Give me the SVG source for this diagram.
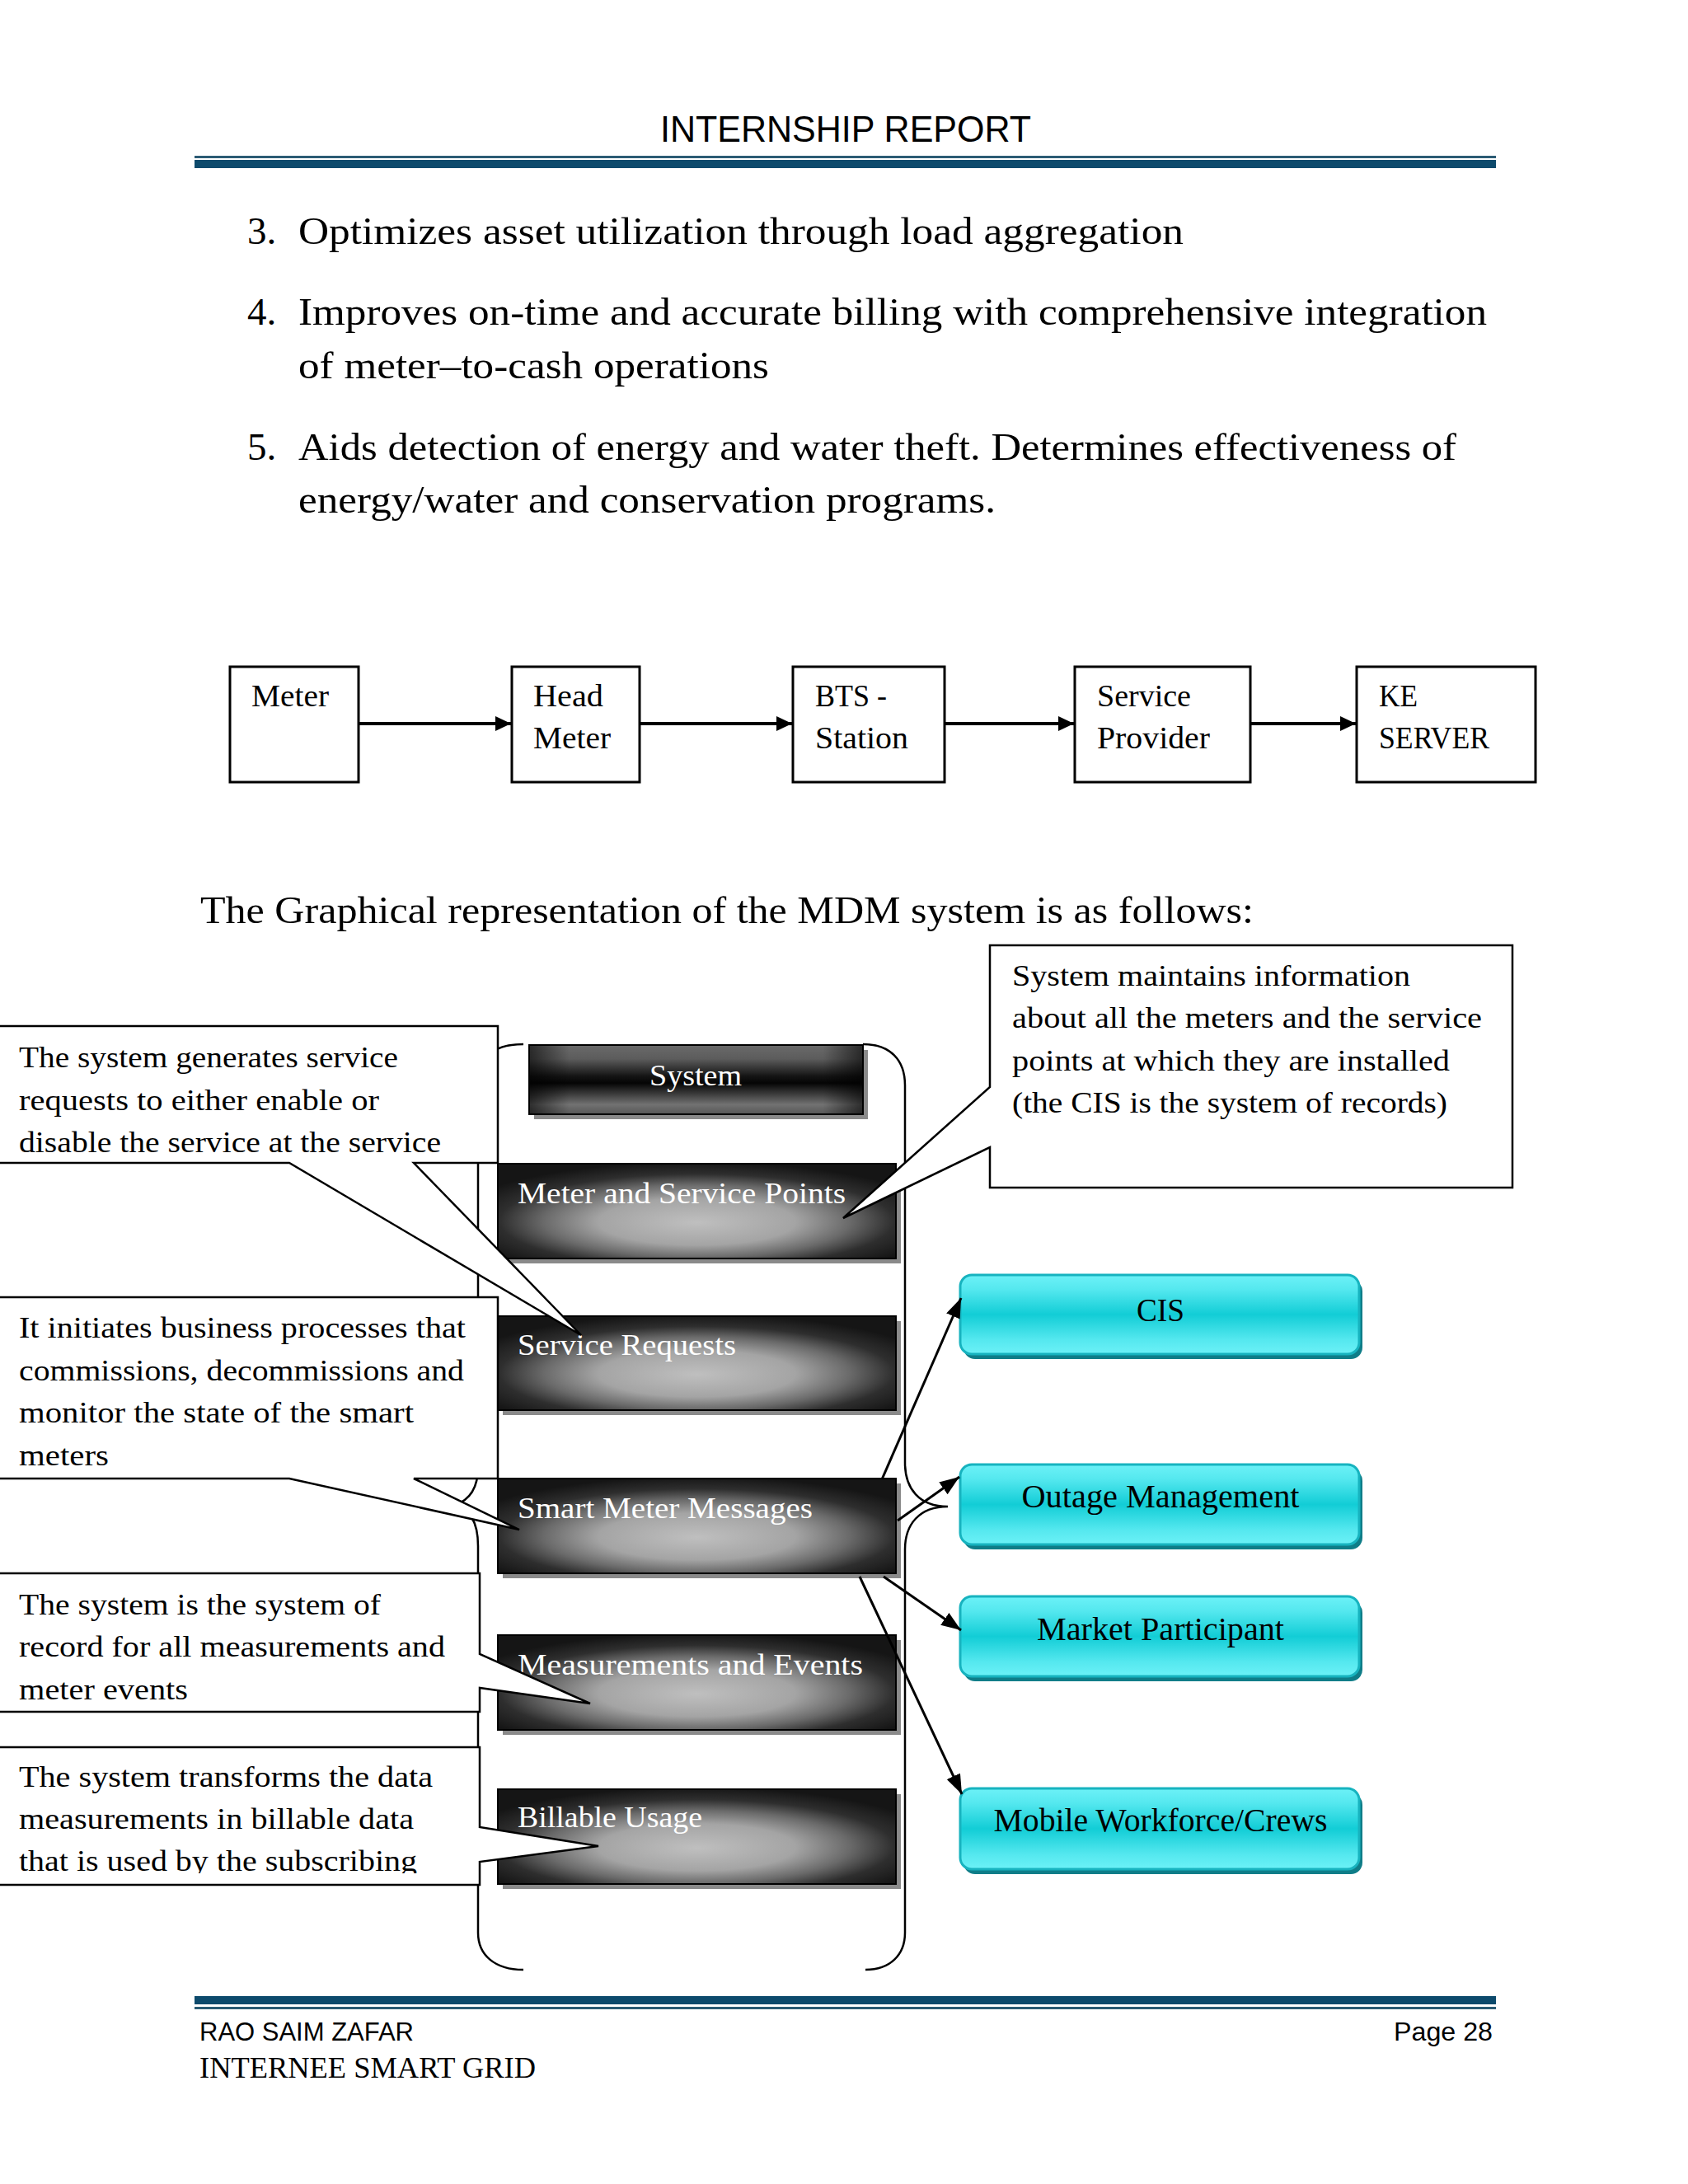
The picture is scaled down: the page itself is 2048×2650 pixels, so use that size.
<svg xmlns="http://www.w3.org/2000/svg" width="2048" height="2650" viewBox="0 0 2048 2650">
<style>
.sans{font-family:"Liberation Sans","Open Sans",sans-serif;fill:#000}
.ser{font-family:"Liberation Serif","DejaVu Serif",serif;fill:#000}
.body{font-size:47px}
.flow{font-size:38px}
.call{font-size:36px}
.dk{font-size:36px;fill:#fff}
.cy{font-size:40px}
.fbox{fill:#fff;stroke:#000;stroke-width:3}
.callout{fill:#fff;stroke:#000;stroke-width:2.5;stroke-linejoin:miter}
.brace{fill:none;stroke:#000;stroke-width:2.5}
.shadow{fill:#8a8a8a}
.dbox{stroke:#000;stroke-width:2}
.cshadow{fill:#0f7d88}
.cbox{fill:url(#gCyan);stroke:#17b3bf;stroke-width:3}
.conn{stroke:#000;stroke-width:3;fill:none}
.flowc{stroke:#000;stroke-width:4;fill:none}
.bar{fill:#0d4a6c}
.thin{fill:#2b5b74}
</style>
<defs>
<linearGradient id="gSys" x1="0" y1="0" x2="0" y2="1">
<stop offset="0" stop-color="#6a6a6a"/>
<stop offset="0.2" stop-color="#5c5c5c"/>
<stop offset="0.45" stop-color="#141414"/>
<stop offset="0.55" stop-color="#050505"/>
<stop offset="0.72" stop-color="#404040"/>
<stop offset="0.86" stop-color="#727272"/>
<stop offset="1" stop-color="#565656"/>
</linearGradient>
<linearGradient id="gEdge" x1="0" y1="0" x2="1" y2="0">
<stop offset="0" stop-color="#000" stop-opacity="0.6"/>
<stop offset="0.12" stop-color="#000" stop-opacity="0"/>
<stop offset="0.88" stop-color="#000" stop-opacity="0"/>
<stop offset="1" stop-color="#000" stop-opacity="0.6"/>
</linearGradient>
<radialGradient id="gDark" cx="0.5" cy="0.6" r="0.62" fx="0.5" fy="0.62">
<stop offset="0" stop-color="#bfbfbf"/>
<stop offset="0.4" stop-color="#a4a4a4"/>
<stop offset="0.62" stop-color="#6a6a6a"/>
<stop offset="0.8" stop-color="#2e2e2e"/>
<stop offset="1" stop-color="#151515"/>
</radialGradient>
<linearGradient id="gCyan" x1="0" y1="0" x2="0" y2="1">
<stop offset="0" stop-color="#6cf1f7"/>
<stop offset="0.18" stop-color="#55e8ef"/>
<stop offset="0.5" stop-color="#12cdd6"/>
<stop offset="0.82" stop-color="#55e8ef"/>
<stop offset="1" stop-color="#6cf1f7"/>
</linearGradient>
<marker id="ah" markerUnits="userSpaceOnUse" markerWidth="26" markerHeight="20" refX="24" refY="9" orient="auto">
<path d="M0,0 L24,9 L0,18 Z" fill="#000"/>
</marker>
<marker id="ahf" markerUnits="userSpaceOnUse" markerWidth="22" markerHeight="20" refX="19" refY="9" orient="auto">
<path d="M0,0 L19,9 L0,18 Z" fill="#000"/>
</marker>
<clipPath id="clipC4"><rect x="0" y="2120" width="600" height="153"/></clipPath>
</defs>

<g id="page-header">
<text class="sans" x="1026" y="172" font-size="44" text-anchor="middle" textLength="450" lengthAdjust="spacingAndGlyphs">INTERNSHIP REPORT</text>
<rect class="thin" x="236" y="189" width="1579" height="3"/>
<rect class="bar" x="236" y="194" width="1579" height="10"/>
</g>

<g id="list">
<text class="ser body" x="300" y="296">3.</text>
<text class="ser body" x="362" y="296" textLength="1074" lengthAdjust="spacingAndGlyphs">Optimizes asset utilization through load aggregation</text>
<text class="ser body" x="300" y="394">4.</text>
<text class="ser body" x="362" y="394" textLength="1442" lengthAdjust="spacingAndGlyphs">Improves on-time and accurate billing with comprehensive integration</text>
<text class="ser body" x="362" y="459" textLength="571" lengthAdjust="spacingAndGlyphs">of meter–to-cash operations</text>
<text class="ser body" x="300" y="558">5.</text>
<text class="ser body" x="362" y="558" textLength="1405" lengthAdjust="spacingAndGlyphs">Aids detection of energy and water theft. Determines effectiveness of</text>
<text class="ser body" x="362" y="622" textLength="846" lengthAdjust="spacingAndGlyphs">energy/water and conservation programs.</text>
</g>

<g id="flow-connectors">
<line class="flowc" x1="435" y1="878" x2="620" y2="878" marker-end="url(#ahf)"/>
<line class="flowc" x1="776" y1="878" x2="961" y2="878" marker-end="url(#ahf)"/>
<line class="flowc" x1="1146" y1="878" x2="1303" y2="878" marker-end="url(#ahf)"/>
<line class="flowc" x1="1517" y1="878" x2="1645" y2="878" marker-end="url(#ahf)"/>
</g>
<g id="flow-meter"><rect class="fbox" x="279" y="809" width="156" height="140"/>
<text class="ser flow" x="305" y="857" textLength="94" lengthAdjust="spacingAndGlyphs">Meter</text></g>
<g id="flow-head-meter"><rect class="fbox" x="621" y="809" width="155" height="140"/>
<text class="ser flow" x="647" y="857" textLength="85" lengthAdjust="spacingAndGlyphs">Head</text>
<text class="ser flow" x="647" y="908" textLength="94" lengthAdjust="spacingAndGlyphs">Meter</text></g>
<g id="flow-bts"><rect class="fbox" x="962" y="809" width="184" height="140"/>
<text class="ser flow" x="989" y="857" textLength="87" lengthAdjust="spacingAndGlyphs">BTS -</text>
<text class="ser flow" x="989" y="908" textLength="113" lengthAdjust="spacingAndGlyphs">Station</text></g>
<g id="flow-service-provider"><rect class="fbox" x="1304" y="809" width="213" height="140"/>
<text class="ser flow" x="1331" y="857" textLength="114" lengthAdjust="spacingAndGlyphs">Service</text>
<text class="ser flow" x="1331" y="908" textLength="137" lengthAdjust="spacingAndGlyphs">Provider</text></g>
<g id="flow-ke-server"><rect class="fbox" x="1646" y="809" width="217" height="140"/>
<text class="ser flow" x="1673" y="857" textLength="47" lengthAdjust="spacingAndGlyphs">KE</text>
<text class="ser flow" x="1673" y="908" textLength="134" lengthAdjust="spacingAndGlyphs">SERVER</text></g>

<text class="ser body" x="243" y="1120" textLength="1278" lengthAdjust="spacingAndGlyphs">The Graphical representation of the MDM system is as follows:</text>

<g id="braces">
<path class="brace" d="M635,1267 C600,1267 580,1282 580,1312 V1780 C580,1806 570,1820 552,1826 C570,1832 580,1846 580,1876 V2345 C580,2372 600,2390 635,2390"/>
<path class="brace" d="M1047,1267 C1080,1267 1098,1286 1098,1317 V1775 C1098,1806 1115,1828 1150,1828 C1115,1828 1098,1850 1098,1880 V2345 C1098,2372 1080,2390 1050,2390"/>
</g>

<g id="node-system">
<rect class="shadow" x="648" y="1274" width="405" height="84"/>
<rect x="642" y="1268" width="405" height="84" fill="url(#gSys)"/>
<rect class="dbox" x="642" y="1268" width="405" height="84" fill="url(#gEdge)"/>
<text class="ser dk" x="844" y="1317" text-anchor="middle" textLength="112" lengthAdjust="spacingAndGlyphs">System</text>
</g>
<g id="node-meter-service-points">
<rect class="shadow" x="610" y="1418" width="483" height="115"/>
<rect class="dbox" x="604" y="1412" width="483" height="115" fill="url(#gDark)"/>
<text class="ser dk" x="628" y="1460" textLength="398" lengthAdjust="spacingAndGlyphs">Meter and Service Points</text>
</g>
<g id="node-service-requests">
<rect class="shadow" x="610" y="1603" width="483" height="114"/>
<rect class="dbox" x="604" y="1597" width="483" height="114" fill="url(#gDark)"/>
<text class="ser dk" x="628" y="1644" textLength="265" lengthAdjust="spacingAndGlyphs">Service Requests</text>
</g>
<g id="node-smart-meter-messages">
<rect class="shadow" x="610" y="1800" width="483" height="115"/>
<rect class="dbox" x="604" y="1794" width="483" height="115" fill="url(#gDark)"/>
<text class="ser dk" x="628" y="1842" textLength="358" lengthAdjust="spacingAndGlyphs">Smart Meter Messages</text>
</g>
<g id="node-measurements-events">
<rect class="shadow" x="610" y="1990" width="483" height="115"/>
<rect class="dbox" x="604" y="1984" width="483" height="115" fill="url(#gDark)"/>
<text class="ser dk" x="628" y="2032" textLength="419" lengthAdjust="spacingAndGlyphs">Measurements and Events</text>
</g>
<g id="node-billable-usage">
<rect class="shadow" x="610" y="2177" width="483" height="115"/>
<rect class="dbox" x="604" y="2171" width="483" height="115" fill="url(#gDark)"/>
<text class="ser dk" x="628" y="2217" textLength="224" lengthAdjust="spacingAndGlyphs">Billable Usage</text>
</g>

<g id="callout-service-requests">
<path class="callout" d="M-5,1245 H604 V1411 H502 L705,1620 L351,1411 H-5 Z"/>
<text class="ser call" x="23" y="1295" textLength="460" lengthAdjust="spacingAndGlyphs">The system generates service</text>
<text class="ser call" x="23" y="1347" textLength="437" lengthAdjust="spacingAndGlyphs">requests to either enable or</text>
<text class="ser call" x="23" y="1398" textLength="512" lengthAdjust="spacingAndGlyphs">disable the service at the service</text>
</g>
<g id="callout-smart-meter">
<path class="callout" d="M-5,1574 H604 V1794 H502 L630,1856 L351,1794 H-5 Z"/>
<text class="ser call" x="23" y="1623" textLength="542" lengthAdjust="spacingAndGlyphs">It initiates business processes that</text>
<text class="ser call" x="23" y="1675" textLength="540" lengthAdjust="spacingAndGlyphs">commissions, decommissions and</text>
<text class="ser call" x="23" y="1726" textLength="479" lengthAdjust="spacingAndGlyphs">monitor the state of the smart</text>
<text class="ser call" x="23" y="1778" textLength="109" lengthAdjust="spacingAndGlyphs">meters</text>
</g>
<g id="callout-measurements">
<path class="callout" d="M-5,1909 H582 V2007 L716,2067 L582,2048 V2077 H-5 Z"/>
<text class="ser call" x="23" y="1959" textLength="439" lengthAdjust="spacingAndGlyphs">The system is the system of</text>
<text class="ser call" x="23" y="2010" textLength="517" lengthAdjust="spacingAndGlyphs">record for all measurements and</text>
<text class="ser call" x="23" y="2062" textLength="205" lengthAdjust="spacingAndGlyphs">meter events</text>
</g>
<g id="callout-billable">
<path class="callout" d="M-5,2120 H582 V2217 L726,2240 L582,2259 V2287 H-5 Z"/>
<g clip-path="url(#clipC4)">
<text class="ser call" x="23" y="2168" textLength="502" lengthAdjust="spacingAndGlyphs">The system transforms the data</text>
<text class="ser call" x="23" y="2219" textLength="479" lengthAdjust="spacingAndGlyphs">measurements in billable data</text>
<text class="ser call" x="23" y="2270" textLength="483" lengthAdjust="spacingAndGlyphs">that is used by the subscribing</text>
</g>
</g>
<g id="callout-meter-points">
<path class="callout" d="M1201,1147 H1835 V1441 H1201 V1392 L1023,1478 L1201,1319 Z"/>
<text class="ser call" x="1228" y="1196" textLength="483" lengthAdjust="spacingAndGlyphs">System maintains information</text>
<text class="ser call" x="1228" y="1247" textLength="570" lengthAdjust="spacingAndGlyphs">about all the meters and the service</text>
<text class="ser call" x="1228" y="1299" textLength="531" lengthAdjust="spacingAndGlyphs">points at which they are installed</text>
<text class="ser call" x="1228" y="1350" textLength="528" lengthAdjust="spacingAndGlyphs">(the CIS is the system of records)</text>
</g>

<g id="node-cis">
<rect class="cshadow" x="1169" y="1553" width="484" height="96" rx="14"/>
<rect class="cbox" x="1165" y="1547" width="484" height="96" rx="14"/>
<text class="ser cy" x="1408" y="1603" text-anchor="middle" textLength="58" lengthAdjust="spacingAndGlyphs">CIS</text>
</g>
<g id="node-outage">
<rect class="cshadow" x="1169" y="1783" width="484" height="97" rx="14"/>
<rect class="cbox" x="1165" y="1777" width="484" height="97" rx="14"/>
<text class="ser cy" x="1408" y="1829" text-anchor="middle" textLength="337" lengthAdjust="spacingAndGlyphs">Outage Management</text>
</g>
<g id="node-market">
<rect class="cshadow" x="1169" y="1943" width="484" height="97" rx="14"/>
<rect class="cbox" x="1165" y="1937" width="484" height="97" rx="14"/>
<text class="ser cy" x="1408" y="1990" text-anchor="middle" textLength="300" lengthAdjust="spacingAndGlyphs">Market Participant</text>
</g>
<g id="node-mobile">
<rect class="cshadow" x="1169" y="2176" width="484" height="98" rx="14"/>
<rect class="cbox" x="1165" y="2170" width="484" height="98" rx="14"/>
<text class="ser cy" x="1408" y="2222" text-anchor="middle" textLength="405" lengthAdjust="spacingAndGlyphs">Mobile Workforce/Crews</text>
</g>

<g id="connectors">
<line class="conn" x1="1070" y1="1795" x2="1166" y2="1575" marker-end="url(#ah)"/>
<line class="conn" x1="1089" y1="1845" x2="1164" y2="1792" marker-end="url(#ah)"/>
<line class="conn" x1="1072" y1="1913" x2="1166" y2="1978" marker-end="url(#ah)"/>
<line class="conn" x1="1043" y1="1913" x2="1167" y2="2177" marker-end="url(#ah)"/>
</g>

<g id="page-footer">
<rect class="bar" x="236" y="2422" width="1579" height="10"/>
<rect class="thin" x="236" y="2435" width="1579" height="3"/>
<text class="sans" x="242" y="2476" font-size="32" textLength="260" lengthAdjust="spacingAndGlyphs">RAO SAIM ZAFAR</text>
<text class="sans" x="1811" y="2476" font-size="32" text-anchor="end" textLength="120" lengthAdjust="spacingAndGlyphs">Page 28</text>
<text class="ser" x="242" y="2521" font-size="36" textLength="408" lengthAdjust="spacingAndGlyphs">INTERNEE SMART GRID</text>
</g>
</svg>
